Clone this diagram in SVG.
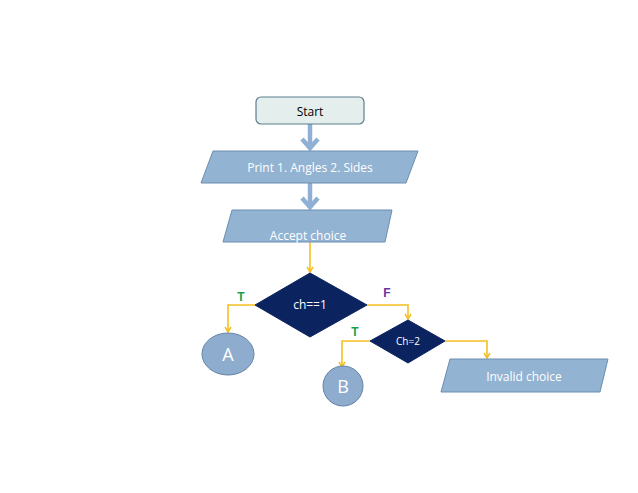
<svg xmlns="http://www.w3.org/2000/svg" width="638" height="493" viewBox="0 0 638 493">
<style>
.io{fill:#93b3d2;stroke:#6a8db0;stroke-width:1}
.t{font-family:"Open Sans","Liberation Sans",sans-serif;fill:#fff;text-anchor:middle}
.dec{fill:#0b2460;stroke:#0b2460}
.y{fill:none;stroke:#f5bf20;stroke-width:1.6}
.b{fill:none;stroke:#8fb0d3;stroke-width:4.5}
.lab{font-family:"Liberation Sans",sans-serif;font-weight:bold;font-size:12px;text-anchor:middle}
</style>
<defs>
<marker id="ya" markerWidth="8" markerHeight="8" refX="6" refY="4" orient="auto" markerUnits="userSpaceOnUse"><path d="M1,1 L6,4 L1,7" fill="none" stroke="#f5bf20" stroke-width="1.5"/></marker>
</defs>
<rect width="638" height="493" fill="#fff"/>
<g id="connectors">
<path class="b" d="M310,124 V149"/><path class="b" d="M302,139 L310,148 L318,139"/>
<path class="b" d="M310,183 V208"/><path class="b" d="M302,198 L310,207 L318,198"/>
<path class="y" d="M310,242 V272" marker-end="url(#ya)"/>
<path class="y" d="M255,305 H228 V332" marker-end="url(#ya)"/>
<path class="y" d="M367,305 H408 V319" marker-end="url(#ya)"/>
<path class="y" d="M370,341 H342 V367" marker-end="url(#ya)"/>
<path class="y" d="M445,341 H487 V358" marker-end="url(#ya)"/>
<text class="lab" x="241" y="301" fill="#1aa04a">T</text>
<text class="lab" x="387" y="297" fill="#7030a0">F</text>
<text class="lab" x="355" y="336" fill="#1aa04a">T</text>
</g>
<g id="start"><rect x="256" y="97" width="108" height="27" rx="5" fill="#e4eeec" stroke="#5d7e8e" stroke-width="1.2"/><text x="310" y="116" font-family="'Open Sans','Liberation Sans',sans-serif" font-size="12" text-anchor="middle" fill="#000">Start</text></g>
<g id="print"><polygon class="io" points="213,151 418,151 406,183 201,183"/><text class="t" x="310" y="172" font-size="12">Print 1. Angles 2. Sides</text></g>
<g id="accept"><polygon class="io" points="232,210 392,210 385,242 223,242"/><text class="t" x="308" y="240" font-size="12">Accept choice</text></g>
<g id="ch1"><polygon class="dec" points="310,273 367,305 310,337 255,305"/><text class="t" x="310" y="309" font-size="12">ch==1</text></g>
<g id="A"><ellipse cx="228" cy="354" rx="26" ry="21" fill="#8eaccd" stroke="#6484a6"/><text class="t" x="228" y="361" font-size="18">A</text></g>
<g id="ch2"><polygon class="dec" points="408,320 445,341 408,363 370,341"/><text class="t" x="408" y="345" font-size="10">Ch=2</text></g>
<g id="B"><ellipse cx="343" cy="386" rx="20" ry="20" fill="#8eaccd" stroke="#6484a6"/><text class="t" x="343" y="393" font-size="18">B</text></g>
<g id="invalid"><polygon class="io" points="450,359 608,359 600,392 441,392"/><text class="t" x="524" y="381" font-size="12">Invalid choice</text></g>
</svg>
